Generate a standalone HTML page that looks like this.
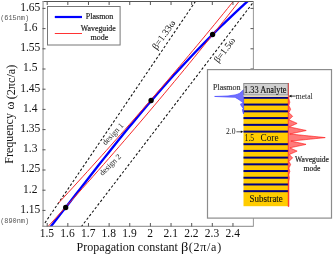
<!DOCTYPE html>
<html><head><meta charset="utf-8"><style>
html,body{margin:0;padding:0;background:#fff;}
svg{display:block;}
text{font-family:"Liberation Serif","Times New Roman",serif;}
</style></head><body>
<svg width="333" height="254" viewBox="0 0 333 254">
<rect width="333" height="254" fill="#fff"/>
<defs><clipPath id="ax"><rect x="42.5" y="1.5" width="211.0" height="225.0"/></clipPath></defs>
<g clip-path="url(#ax)">
<path d="M39.86,230.40 L199.08,-3.92" stroke="#111" stroke-width="1.05" stroke-dasharray="2.5,2" fill="none"/>
<path d="M78.46,230.40 L258.03,-3.92" stroke="#111" stroke-width="1.05" stroke-dasharray="2.5,2" fill="none"/>
<path d="M251.29,-2.00 L244.71,3.95 L238.24,9.90 L231.88,15.85 L225.63,21.79 L219.49,27.74 L213.45,33.69 L207.50,39.64 L201.65,45.59 L195.89,51.54 L190.22,57.49 L184.63,63.44 L179.13,69.38 L173.69,75.33 L168.34,81.28 L163.05,87.23 L157.83,93.18 L152.67,99.13 L147.57,105.08 L142.53,111.03 L137.54,116.97 L132.60,122.92 L127.71,128.87 L122.86,134.82 L118.04,140.77 L113.27,146.72 L108.52,152.67 L103.80,158.62 L99.11,164.56 L94.44,170.51 L89.79,176.46 L85.15,182.41 L80.52,188.36 L75.90,194.31 L71.28,200.26 L66.67,206.21 L62.05,212.15 L57.43,218.10 L52.79,224.05 L48.14,230.00" stroke="#0000ff" stroke-width="2.35" fill="none"/>
<path d="M236.02,-2.00 L231.77,3.26 L227.51,8.51 L223.23,13.77 L218.94,19.03 L214.63,24.28 L210.30,29.54 L205.96,34.79 L201.60,40.05 L197.23,45.31 L192.84,50.56 L188.43,55.82 L184.01,61.08 L179.57,66.33 L175.12,71.59 L170.65,76.85 L166.16,82.10 L161.66,87.36 L157.14,92.62 L152.61,97.87 L148.06,103.13 L143.49,108.38 L138.91,113.64 L134.31,118.90 L129.70,124.15 L125.07,129.41 L120.42,134.67 L115.76,139.92 L111.08,145.18 L106.39,150.44 L101.68,155.69 L96.95,160.95 L92.21,166.21 L87.45,171.46 L82.68,176.72 L77.89,181.97 L73.08,187.23 L68.26,192.49 L63.42,197.74 L58.57,203.00" stroke="#f52a2a" stroke-width="1" fill="none"/>
<path d="M241.75,-2.00 L237.09,3.95 L232.40,9.90 L227.69,15.85 L222.96,21.79 L218.22,27.74 L213.45,33.69 L208.66,39.64 L203.85,45.59 L199.02,51.54 L194.18,57.49 L189.31,63.44 L184.42,69.38 L179.51,75.33 L174.58,81.28 L169.63,87.23 L164.66,93.18 L159.67,99.13 L154.66,105.08 L149.64,111.03 L144.59,116.97 L139.52,122.92 L134.43,128.87 L129.32,134.82 L124.19,140.77 L119.04,146.72 L113.87,152.67 L108.68,158.62 L103.47,164.56 L98.24,170.51 L92.98,176.46 L87.71,182.41 L82.42,188.36 L77.11,194.31 L71.78,200.26 L66.43,206.21 L61.06,212.15 L55.67,218.10 L50.26,224.05 L44.82,230.00" stroke="#f52a2a" stroke-width="1" fill="none"/>
<circle cx="65.7" cy="207.5" r="2.65"/><circle cx="151.1" cy="100.5" r="2.65"/><circle cx="212.6" cy="34.5" r="2.65"/>
</g>
<path d="M42.5,1.5H253.5" stroke="#555" stroke-width="1"/>
<path d="M43.1,1.5V226.5" stroke="#bbb" stroke-width="1.8"/>
<path d="M42.5,226.3H253.5" stroke="#888" stroke-width="1"/>
<path d="M253.4,1.5V226.5" stroke="#999" stroke-width="1"/>
<path d="M47.20,226.5v-3.5M47.20,1.5v3.5M67.84,226.5v-3.5M67.84,1.5v3.5M88.48,226.5v-3.5M88.48,1.5v3.5M109.12,226.5v-3.5M109.12,1.5v3.5M129.76,226.5v-3.5M129.76,1.5v3.5M150.40,226.5v-3.5M150.40,1.5v3.5M171.04,226.5v-3.5M171.04,1.5v3.5M191.68,226.5v-3.5M191.68,1.5v3.5M212.32,226.5v-3.5M212.32,1.5v3.5M232.96,226.5v-3.5M232.96,1.5v3.5M42.5,210.40h3M253.5,210.40h-3M42.5,190.20h3M253.5,190.20h-3M42.5,170.00h3M253.5,170.00h-3M42.5,149.80h3M253.5,149.80h-3M42.5,129.60h3M253.5,129.60h-3M42.5,109.40h3M253.5,109.40h-3M42.5,89.20h3M253.5,89.20h-3M42.5,69.00h3M253.5,69.00h-3M42.5,48.80h3M253.5,48.80h-3M42.5,28.60h3M253.5,28.60h-3M42.5,8.40h3M253.5,8.40h-3" stroke="#555" stroke-width="1" fill="none"/>
<g font-size="11.5" text-anchor="middle" fill="#111"><text x="46.9" y="237">1.5</text><text x="67.5" y="237">1.6</text><text x="88.2" y="237">1.7</text><text x="108.8" y="237">1.8</text><text x="129.5" y="237">1.9</text><text x="150.1" y="237">2</text><text x="170.7" y="237">2.1</text><text x="191.4" y="237">2.2</text><text x="212.0" y="237">2.3</text><text x="232.7" y="237">2.4</text><text x="30.2" y="212.8">1.15</text><text x="30.2" y="192.6">1.2</text><text x="30.2" y="172.4">1.25</text><text x="30.2" y="152.2">1.3</text><text x="30.2" y="132.0">1.35</text><text x="30.2" y="111.8">1.4</text><text x="30.2" y="91.6">1.45</text><text x="30.2" y="71.4">1.5</text><text x="30.2" y="51.2">1.55</text><text x="30.2" y="31.0">1.6</text><text x="30.2" y="10.8">1.65</text></g>
<text x="76.6" y="250.8" font-size="12.05" fill="#111">Propagation constant</text>
<text transform="translate(181,250.8) scale(1.2,1)" font-size="12" fill="#111">β</text>
<text x="188.7" y="250.8" font-size="12" letter-spacing="0.75" fill="#111">(2π/a)</text>
<text transform="translate(13.4,163.7) rotate(-90)" font-size="12" fill="#111">Frequency</text>
<text transform="translate(13.6,109.6) rotate(-90)" font-size="12" fill="#111">ω</text>
<text transform="translate(15.0,99.3) rotate(-90)" font-size="12.2" fill="#111">(2πc/a)</text>
<text x="0.2" y="19.8" font-size="6.9" fill="#555" style="font-family:'Liberation Mono',monospace">(615nm)</text>
<text x="0.2" y="223.4" font-size="6.9" fill="#555" style="font-family:'Liberation Mono',monospace">(890nm)</text>
<!-- legend -->
<rect x="47.5" y="6.5" width="72.6" height="38.5" fill="#fff" stroke="#777" stroke-width="1"/>
<path d="M54.8,17 H82" stroke="#0000ff" stroke-width="2.2"/>
<path d="M54.8,33.5 H82" stroke="#ff3333" stroke-width="1"/>
<g font-size="8" fill="#222" stroke="#222" stroke-width="0.2">
<text x="85.8" y="19.3">Plasmon</text>
<text x="98.3" y="31" text-anchor="middle" font-size="7.8">Waveguide</text>
<text x="99.3" y="40.3" text-anchor="middle">mode</text>
</g>
<!-- line labels -->
<g font-size="9.6" fill="#111">
<text transform="translate(156.7,50.2) rotate(-55)">β=1.33ω</text>
<text transform="translate(218.3,63.3) rotate(-52.5)">β=1.5ω</text>
</g>
<g font-size="8" fill="#222">
<text transform="translate(105.6,145.6) rotate(-47)">design 1</text>
<text transform="translate(102.4,176) rotate(-44.5)">design 2</text>
</g>
<!-- inset -->
<rect x="207.5" y="69.6" width="124" height="148.5" fill="#fff" stroke="#8c8c8c" stroke-width="1.2"/>
<rect x="243.5" y="96" width="44.80" height="110.2" fill="#ffcc00"/>
<rect x="243.5" y="96.80" width="44.80" height="2" fill="#000080"/><rect x="243.5" y="103.56" width="44.80" height="2" fill="#000080"/><rect x="243.5" y="110.32" width="44.80" height="2" fill="#000080"/><rect x="243.5" y="117.08" width="44.80" height="2" fill="#000080"/><rect x="243.5" y="123.84" width="44.80" height="2" fill="#000080"/><rect x="243.5" y="130.60" width="44.80" height="2" fill="#000080"/><rect x="243.5" y="143.20" width="44.80" height="2" fill="#000080"/><rect x="243.5" y="149.91" width="44.80" height="2" fill="#000080"/><rect x="243.5" y="156.62" width="44.80" height="2" fill="#000080"/><rect x="243.5" y="163.33" width="44.80" height="2" fill="#000080"/><rect x="243.5" y="170.04" width="44.80" height="2" fill="#000080"/><rect x="243.5" y="176.75" width="44.80" height="2" fill="#000080"/><rect x="243.5" y="183.46" width="44.80" height="2" fill="#000080"/><rect x="243.5" y="190.17" width="44.80" height="2" fill="#000080"/>
<path d="M288.3,96 L289.24,96.00 L289.22,96.10 L289.21,96.20 L289.19,96.30 L289.17,96.40 L289.16,96.50 L289.14,96.60 L289.12,96.70 L289.11,96.80 L289.09,96.90 L289.08,97.00 L289.06,97.10 L289.04,97.20 L289.03,97.30 L289.01,97.40 L288.99,97.50 L288.98,97.60 L288.96,97.70 L288.95,97.80 L288.93,97.90 L288.91,98.00 L288.90,98.10 L288.88,98.20 L288.86,98.30 L288.85,98.40 L288.83,98.50 L288.85,98.60 L288.88,98.70 L288.91,98.80 L288.94,98.90 L288.96,99.00 L288.99,99.10 L289.02,99.20 L289.04,99.30 L289.07,99.40 L289.10,99.50 L289.12,99.60 L289.15,99.70 L289.18,99.80 L289.21,99.90 L289.23,100.00 L289.26,100.10 L289.29,100.20 L289.31,100.30 L289.34,100.40 L289.37,100.50 L289.39,100.60 L289.42,100.70 L289.45,100.80 L289.48,100.90 L289.50,101.00 L289.53,101.10 L289.56,101.20 L289.58,101.30 L289.61,101.40 L289.64,101.50 L289.66,101.60 L289.69,101.70 L289.72,101.80 L289.75,101.90 L289.77,102.00 L289.80,102.10 L289.77,102.20 L289.75,102.30 L289.72,102.40 L289.69,102.50 L289.66,102.60 L289.64,102.70 L289.61,102.80 L289.58,102.90 L289.56,103.00 L289.53,103.10 L289.50,103.20 L289.48,103.30 L289.45,103.40 L289.42,103.50 L289.39,103.60 L289.37,103.70 L289.34,103.80 L289.31,103.90 L289.29,104.00 L289.26,104.10 L289.23,104.20 L289.21,104.30 L289.18,104.40 L289.15,104.50 L289.12,104.60 L289.10,104.70 L289.07,104.80 L289.04,104.90 L289.02,105.00 L288.99,105.10 L288.96,105.20 L288.94,105.30 L288.91,105.40 L288.88,105.50 L288.85,105.60 L288.90,105.70 L288.95,105.80 L288.99,105.90 L289.04,106.00 L289.09,106.10 L289.14,106.20 L289.19,106.30 L289.24,106.40 L289.29,106.50 L289.34,106.60 L289.38,106.70 L289.43,106.80 L289.48,106.90 L289.53,107.00 L289.58,107.10 L289.63,107.20 L289.68,107.30 L289.72,107.40 L289.77,107.50 L289.82,107.60 L289.87,107.70 L289.92,107.80 L289.97,107.90 L290.02,108.00 L290.06,108.10 L290.11,108.20 L290.16,108.30 L290.21,108.40 L290.26,108.50 L290.31,108.60 L290.36,108.70 L290.41,108.80 L290.45,108.90 L290.50,109.00 L290.55,109.10 L290.60,109.20 L290.55,109.30 L290.50,109.40 L290.45,109.50 L290.41,109.60 L290.36,109.70 L290.31,109.80 L290.26,109.90 L290.21,110.00 L290.16,110.10 L290.11,110.20 L290.06,110.30 L290.02,110.40 L289.97,110.50 L289.92,110.60 L289.87,110.70 L289.82,110.80 L289.77,110.90 L289.72,111.00 L289.68,111.10 L289.63,111.20 L289.58,111.30 L289.53,111.40 L289.48,111.50 L289.43,111.60 L289.38,111.70 L289.34,111.80 L289.29,111.90 L289.24,112.00 L289.19,112.10 L289.14,112.20 L289.09,112.30 L289.04,112.40 L288.99,112.50 L288.95,112.60 L288.90,112.70 L289.01,112.80 L289.11,112.90 L289.21,113.00 L289.31,113.10 L289.42,113.20 L289.52,113.30 L289.62,113.40 L289.72,113.50 L289.83,113.60 L289.93,113.70 L290.03,113.80 L290.14,113.90 L290.24,114.00 L290.34,114.10 L290.44,114.20 L290.55,114.30 L290.65,114.40 L290.75,114.50 L290.85,114.60 L290.96,114.70 L291.06,114.80 L291.16,114.90 L291.26,115.00 L291.37,115.10 L291.47,115.20 L291.57,115.30 L291.68,115.40 L291.78,115.50 L291.88,115.60 L291.98,115.70 L292.09,115.80 L292.19,115.90 L292.29,116.00 L292.39,116.10 L292.50,116.20 L292.60,116.30 L292.50,116.40 L292.39,116.50 L292.29,116.60 L292.19,116.70 L292.09,116.80 L291.98,116.90 L291.88,117.00 L291.78,117.10 L291.68,117.20 L291.57,117.30 L291.47,117.40 L291.37,117.50 L291.26,117.60 L291.16,117.70 L291.06,117.80 L290.96,117.90 L290.85,118.00 L290.75,118.10 L290.65,118.20 L290.55,118.30 L290.44,118.40 L290.34,118.50 L290.24,118.60 L290.14,118.70 L290.03,118.80 L289.93,118.90 L289.83,119.00 L289.72,119.10 L289.62,119.20 L289.52,119.30 L289.42,119.40 L289.31,119.50 L289.21,119.60 L289.11,119.70 L289.02,119.80 L289.25,119.90 L289.47,120.00 L289.70,120.10 L289.92,120.20 L290.15,120.30 L290.37,120.40 L290.59,120.50 L290.82,120.60 L291.04,120.70 L291.27,120.80 L291.49,120.90 L291.72,121.00 L291.94,121.10 L292.16,121.20 L292.39,121.30 L292.61,121.40 L292.84,121.50 L293.06,121.60 L293.29,121.70 L293.51,121.80 L293.74,121.90 L293.96,122.00 L294.18,122.10 L294.41,122.20 L294.63,122.30 L294.86,122.40 L295.08,122.50 L295.31,122.60 L295.53,122.70 L295.75,122.80 L295.98,122.90 L296.20,123.00 L296.43,123.10 L296.65,123.20 L296.88,123.30 L297.10,123.40 L296.88,123.50 L296.65,123.60 L296.43,123.70 L296.20,123.80 L295.98,123.90 L295.75,124.00 L295.53,124.10 L295.31,124.20 L295.08,124.30 L294.86,124.40 L294.63,124.50 L294.41,124.60 L294.18,124.70 L293.96,124.80 L293.74,124.90 L293.51,125.00 L293.29,125.10 L293.06,125.20 L292.84,125.30 L292.61,125.40 L292.39,125.50 L292.16,125.60 L291.94,125.70 L291.72,125.80 L291.49,125.90 L291.27,126.00 L291.04,126.10 L290.82,126.20 L290.59,126.30 L290.37,126.40 L290.15,126.50 L289.92,126.60 L289.70,126.70 L289.47,126.80 L289.27,126.90 L289.74,127.00 L290.21,127.10 L290.68,127.20 L291.15,127.30 L291.62,127.40 L292.09,127.50 L292.56,127.60 L293.03,127.70 L293.50,127.80 L293.97,127.90 L294.44,128.00 L294.91,128.10 L295.38,128.20 L295.85,128.30 L296.32,128.40 L296.79,128.50 L297.26,128.60 L297.74,128.70 L298.21,128.80 L298.68,128.90 L299.15,129.00 L299.62,129.10 L300.09,129.20 L300.56,129.30 L301.03,129.40 L301.50,129.50 L301.97,129.60 L302.44,129.70 L302.91,129.80 L303.38,129.90 L303.85,130.00 L304.32,130.10 L304.79,130.20 L305.26,130.30 L305.73,130.40 L306.20,130.50 L305.73,130.60 L305.26,130.70 L304.79,130.80 L304.32,130.90 L303.85,131.00 L303.38,131.10 L302.91,131.20 L302.44,131.30 L301.97,131.40 L301.50,131.50 L301.03,131.60 L300.56,131.70 L300.09,131.80 L299.62,131.90 L299.15,132.00 L298.68,132.10 L298.21,132.20 L297.74,132.30 L297.26,132.40 L296.79,132.50 L296.32,132.60 L295.85,132.70 L295.38,132.80 L294.91,132.90 L294.44,133.00 L293.97,133.10 L293.50,133.20 L293.03,133.30 L292.56,133.40 L292.09,133.50 L291.62,133.60 L291.15,133.70 L290.68,133.80 L290.21,133.90 L289.78,134.00 L290.77,134.10 L291.75,134.20 L292.74,134.30 L293.72,134.40 L294.70,134.50 L295.69,134.60 L296.67,134.70 L297.65,134.80 L298.64,134.90 L299.62,135.00 L300.61,135.10 L301.59,135.20 L302.57,135.30 L303.56,135.40 L304.54,135.50 L305.52,135.60 L306.51,135.70 L307.49,135.80 L308.48,135.90 L309.46,136.00 L310.44,136.10 L311.43,136.20 L312.41,136.30 L313.39,136.40 L314.38,136.50 L315.36,136.60 L316.35,136.70 L317.33,136.80 L318.31,136.90 L319.30,137.00 L320.28,137.10 L321.26,137.20 L322.25,137.30 L323.23,137.40 L324.22,137.50 L325.20,137.60 L324.22,137.70 L323.23,137.80 L322.25,137.90 L321.26,138.00 L320.28,138.10 L319.30,138.20 L318.31,138.30 L317.33,138.40 L316.35,138.50 L315.36,138.60 L314.38,138.70 L313.39,138.80 L312.41,138.90 L311.43,139.00 L310.44,139.10 L309.46,139.20 L308.48,139.30 L307.49,139.40 L306.51,139.50 L305.52,139.60 L304.54,139.70 L303.56,139.80 L302.57,139.90 L301.59,140.00 L300.61,140.10 L299.62,140.20 L298.64,140.30 L297.65,140.40 L296.67,140.50 L295.69,140.60 L294.70,140.70 L293.72,140.80 L292.74,140.90 L291.75,141.00 L290.92,141.10 L291.39,141.20 L291.86,141.30 L292.33,141.40 L292.80,141.50 L293.27,141.60 L293.74,141.70 L294.21,141.80 L294.68,141.90 L295.15,142.00 L295.62,142.10 L296.09,142.20 L296.56,142.30 L297.03,142.40 L297.50,142.50 L297.97,142.60 L298.44,142.70 L298.91,142.80 L299.38,142.90 L299.85,143.00 L300.32,143.10 L300.79,143.20 L301.26,143.30 L301.73,143.40 L302.20,143.50 L302.67,143.60 L303.14,143.70 L303.61,143.80 L304.08,143.90 L304.55,144.00 L305.02,144.10 L305.49,144.20 L305.96,144.30 L305.96,144.40 L305.49,144.50 L305.02,144.60 L304.55,144.70 L304.08,144.80 L303.61,144.90 L303.14,145.00 L302.67,145.10 L302.20,145.20 L301.73,145.30 L301.26,145.40 L300.79,145.50 L300.32,145.60 L299.85,145.70 L299.38,145.80 L298.91,145.90 L298.44,146.00 L297.97,146.10 L297.50,146.20 L297.03,146.30 L296.56,146.40 L296.09,146.50 L295.62,146.60 L295.15,146.70 L294.68,146.80 L294.21,146.90 L293.74,147.00 L293.27,147.10 L292.80,147.20 L292.33,147.30 L291.86,147.40 L291.39,147.50 L290.92,147.60 L290.45,147.70 L289.98,147.80 L289.92,147.90 L290.15,148.00 L290.37,148.10 L290.59,148.20 L290.82,148.30 L291.04,148.40 L291.27,148.50 L291.49,148.60 L291.72,148.70 L291.94,148.80 L292.16,148.90 L292.39,149.00 L292.61,149.10 L292.84,149.20 L293.06,149.30 L293.29,149.40 L293.51,149.50 L293.74,149.60 L293.96,149.70 L294.18,149.80 L294.41,149.90 L294.63,150.00 L294.86,150.10 L295.08,150.20 L295.31,150.30 L295.53,150.40 L295.75,150.50 L295.98,150.60 L296.20,150.70 L296.43,150.80 L296.65,150.90 L296.88,151.00 L297.10,151.10 L296.88,151.20 L296.65,151.30 L296.43,151.40 L296.20,151.50 L295.98,151.60 L295.75,151.70 L295.53,151.80 L295.31,151.90 L295.08,152.00 L294.86,152.10 L294.63,152.20 L294.41,152.30 L294.18,152.40 L293.96,152.50 L293.74,152.60 L293.51,152.70 L293.29,152.80 L293.06,152.90 L292.84,153.00 L292.61,153.10 L292.39,153.20 L292.16,153.30 L291.94,153.40 L291.72,153.50 L291.49,153.60 L291.27,153.70 L291.04,153.80 L290.82,153.90 L290.59,154.00 L290.37,154.10 L290.15,154.20 L289.92,154.30 L289.70,154.40 L289.47,154.50 L289.26,154.60 L289.36,154.70 L289.47,154.80 L289.57,154.90 L289.67,155.00 L289.78,155.10 L289.88,155.20 L289.98,155.30 L290.08,155.40 L290.19,155.50 L290.29,155.60 L290.39,155.70 L290.49,155.80 L290.60,155.90 L290.70,156.00 L290.80,156.10 L290.91,156.20 L291.01,156.30 L291.11,156.40 L291.21,156.50 L291.32,156.60 L291.42,156.70 L291.52,156.80 L291.62,156.90 L291.73,157.00 L291.83,157.10 L291.93,157.20 L292.04,157.30 L292.14,157.40 L292.24,157.50 L292.34,157.60 L292.45,157.70 L292.55,157.80 L292.55,157.90 L292.45,158.00 L292.34,158.10 L292.24,158.20 L292.14,158.30 L292.04,158.40 L291.93,158.50 L291.83,158.60 L291.73,158.70 L291.62,158.80 L291.52,158.90 L291.42,159.00 L291.32,159.10 L291.21,159.20 L291.11,159.30 L291.01,159.40 L290.91,159.50 L290.80,159.60 L290.70,159.70 L290.60,159.80 L290.49,159.90 L290.39,160.00 L290.29,160.10 L290.19,160.20 L290.08,160.30 L289.98,160.40 L289.88,160.50 L289.78,160.60 L289.67,160.70 L289.57,160.80 L289.47,160.90 L289.36,161.00 L289.26,161.10 L289.16,161.20 L289.06,161.30 L289.04,161.40 L289.09,161.50 L289.14,161.60 L289.19,161.70 L289.24,161.80 L289.29,161.90 L289.34,162.00 L289.38,162.10 L289.43,162.20 L289.48,162.30 L289.53,162.40 L289.58,162.50 L289.63,162.60 L289.68,162.70 L289.72,162.80 L289.77,162.90 L289.82,163.00 L289.87,163.10 L289.92,163.20 L289.97,163.30 L290.02,163.40 L290.06,163.50 L290.11,163.60 L290.16,163.70 L290.21,163.80 L290.26,163.90 L290.31,164.00 L290.36,164.10 L290.41,164.20 L290.45,164.30 L290.50,164.40 L290.55,164.50 L290.60,164.60 L290.55,164.70 L290.50,164.80 L290.45,164.90 L290.41,165.00 L290.36,165.10 L290.31,165.20 L290.26,165.30 L290.21,165.40 L290.16,165.50 L290.11,165.60 L290.06,165.70 L290.02,165.80 L289.97,165.90 L289.92,166.00 L289.87,166.10 L289.82,166.20 L289.77,166.30 L289.72,166.40 L289.68,166.50 L289.63,166.60 L289.58,166.70 L289.53,166.80 L289.48,166.90 L289.43,167.00 L289.38,167.10 L289.34,167.20 L289.29,167.30 L289.24,167.40 L289.19,167.50 L289.14,167.60 L289.09,167.70 L289.04,167.80 L288.99,167.90 L288.95,168.00 L288.92,168.10 L288.95,168.20 L288.98,168.30 L289.00,168.40 L289.03,168.50 L289.06,168.60 L289.08,168.70 L289.11,168.80 L289.14,168.90 L289.16,169.00 L289.19,169.10 L289.22,169.20 L289.25,169.30 L289.27,169.40 L289.30,169.50 L289.33,169.60 L289.35,169.70 L289.38,169.80 L289.41,169.90 L289.44,170.00 L289.46,170.10 L289.49,170.20 L289.52,170.30 L289.54,170.40 L289.57,170.50 L289.60,170.60 L289.62,170.70 L289.65,170.80 L289.68,170.90 L289.71,171.00 L289.73,171.10 L289.76,171.20 L289.79,171.30 L289.79,171.40 L289.76,171.50 L289.73,171.60 L289.71,171.70 L289.68,171.80 L289.65,171.90 L289.62,172.00 L289.60,172.10 L289.57,172.20 L289.54,172.30 L289.52,172.40 L289.49,172.50 L289.46,172.60 L289.44,172.70 L289.41,172.80 L289.38,172.90 L289.35,173.00 L289.33,173.10 L289.30,173.20 L289.27,173.30 L289.25,173.40 L289.22,173.50 L289.19,173.60 L289.16,173.70 L289.14,173.80 L289.11,173.90 L289.08,174.00 L289.06,174.10 L289.03,174.20 L289.00,174.30 L288.98,174.40 L288.95,174.50 L288.92,174.60 L288.89,174.70 L288.87,174.80 L288.88,174.90 L288.90,175.00 L288.91,175.10 L288.93,175.20 L288.95,175.30 L288.96,175.40 L288.98,175.50 L288.99,175.60 L289.01,175.70 L289.03,175.80 L289.04,175.90 L289.06,176.00 L289.08,176.10 L289.09,176.20 L289.11,176.30 L289.12,176.40 L289.14,176.50 L289.16,176.60 L289.17,176.70 L289.19,176.80 L289.21,176.90 L289.22,177.00 L289.24,177.10 L289.25,177.20 L289.27,177.30 L289.29,177.40 L289.30,177.50 L289.32,177.60 L289.34,177.70 L289.35,177.80 L289.37,177.90 L289.38,178.00 L289.40,178.10 L289.38,178.20 L289.37,178.30 L289.35,178.40 L289.34,178.50 L289.32,178.60 L289.30,178.70 L289.29,178.80 L289.27,178.90 L289.25,179.00 L289.24,179.10 L289.22,179.20 L289.21,179.30 L289.19,179.40 L289.17,179.50 L289.16,179.60 L289.14,179.70 L289.12,179.80 L289.11,179.90 L289.09,180.00 L289.08,180.10 L289.06,180.20 L289.04,180.30 L289.03,180.40 L289.01,180.50 L288.99,180.60 L288.98,180.70 L288.96,180.80 L288.95,180.90 L288.93,181.00 L288.91,181.10 L288.90,181.20 L288.88,181.30 L288.86,181.40 L288.85,181.50 L288.83,181.60 L288.82,181.70 L288.80,181.80 L288.80,181.90 L288.80,182.00 L288.80,182.10 L288.80,182.20 L288.80,182.30 L288.80,182.40 L288.80,182.50 L288.80,182.60 L288.80,182.70 L288.80,182.80 L288.80,182.90 L288.80,183.00 L288.80,183.10 L288.80,183.20 L288.80,183.30 L288.80,183.40 L288.80,183.50 L288.80,183.60 L288.80,183.70 L288.80,183.80 L288.80,183.90 L288.80,184.00 L288.80,184.10 L288.80,184.20 L288.80,184.30 L288.80,184.40 L288.80,184.50 L288.80,184.60 L288.80,184.70 L288.80,184.80 L288.80,184.90 L288.80,185.00 L288.80,185.10 L288.80,185.20 L288.80,185.30 L288.80,185.40 L288.80,185.50 L288.80,185.60 L288.80,185.70 L288.80,185.80 L288.80,185.90 L288.80,186.00 L288.80,186.10 L288.80,186.20 L288.80,186.30 L288.80,186.40 L288.80,186.50 L288.80,186.60 L288.80,186.70 L288.80,186.80 L288.80,186.90 L288.80,187.00 L288.80,187.10 L288.80,187.20 L288.80,187.30 L288.80,187.40 L288.80,187.50 L288.80,187.60 L288.80,187.70 L288.80,187.80 L288.80,187.90 L288.80,188.00 L288.80,188.10 L288.80,188.20 L288.80,188.30 L288.80,188.40 L288.80,188.50 L288.80,188.60 L288.80,188.70 L288.80,188.80 L288.80,188.90 L288.80,189.00 L288.80,189.10 L288.80,189.20 L288.80,189.30 L288.80,189.40 L288.80,189.50 L288.80,189.60 L288.80,189.70 L288.80,189.80 L288.80,189.90 L288.80,190.00 L288.80,190.10 L288.80,190.20 L288.80,190.30 L288.80,190.40 L288.80,190.50 L288.80,190.60 L288.80,190.70 L288.80,190.80 L288.80,190.90 L288.80,191.00 L288.80,191.10 L288.80,191.20 L288.80,191.30 L288.80,191.40 L288.80,191.50 L288.80,191.60 L288.80,191.70 L288.80,191.80 L288.80,191.90 L288.80,192.00 L288.80,192.10 L288.80,192.20 L288.80,192.30 L288.80,192.40 L288.80,192.50 L288.80,192.60 L288.80,192.70 L288.80,192.80 L288.80,192.90 L288.80,193.00 L288.80,193.10 L288.80,193.20 L288.80,193.30 L288.80,193.40 L288.80,193.50 L288.80,193.60 L288.80,193.70 L288.80,193.80 L288.80,193.90 L288.80,194.00 L288.80,194.10 L288.80,194.20 L288.80,194.30 L288.80,194.40 L288.80,194.50 L288.80,194.60 L288.80,194.70 L288.80,194.80 L288.80,194.90 L288.80,195.00 L288.80,195.10 L288.80,195.20 L288.80,195.30 L288.80,195.40 L288.80,195.50 L288.80,195.60 L288.80,195.70 L288.80,195.80 L288.80,195.90 L288.80,196.00 L288.80,196.10 L288.80,196.20 L288.80,196.30 L288.80,196.40 L288.80,196.50 L288.80,196.60 L288.80,196.70 L288.80,196.80 L288.80,196.90 L288.80,197.00 L288.80,197.10 L288.80,197.20 L288.80,197.30 L288.80,197.40 L288.80,197.50 L288.80,197.60 L288.80,197.70 L288.80,197.80 L288.80,197.90 L288.80,198.00 L288.80,198.10 L288.80,198.20 L288.80,198.30 L288.80,198.40 L288.80,198.50 L288.80,198.60 L288.80,198.70 L288.80,198.80 L288.80,198.90 L288.80,199.00 L288.80,199.10 L288.80,199.20 L288.80,199.30 L288.80,199.40 L288.80,199.50 L288.80,199.60 L288.80,199.70 L288.80,199.80 L288.80,199.90 L288.80,200.00 L288.80,200.10 L288.80,200.20 L288.80,200.30 L288.80,200.40 L288.80,200.50 L288.80,200.60 L288.80,200.70 L288.80,200.80 L288.80,200.90 L288.80,201.00 L288.80,201.10 L288.80,201.20 L288.80,201.30 L288.80,201.40 L288.80,201.50 L288.80,201.60 L288.80,201.70 L288.80,201.80 L288.80,201.90 L288.80,202.00 L288.80,202.10 L288.80,202.20 L288.80,202.30 L288.80,202.40 L288.80,202.50 L288.80,202.60 L288.80,202.70 L288.80,202.80 L288.80,202.90 L288.80,203.00 L288.80,203.10 L288.80,203.20 L288.80,203.30 L288.80,203.40 L288.80,203.50 L288.80,203.60 L288.80,203.70 L288.80,203.80 L288.80,203.90 L288.80,204.00 L288.80,204.10 L288.80,204.20 L288.80,204.30 L288.80,204.40 L288.80,204.50 L288.80,204.60 L288.80,204.70 L288.80,204.80 L288.80,204.90 L288.80,205.00 L288.80,205.10 L288.80,205.20 L288.80,205.30 L288.80,205.40 L288.80,205.50 L288.80,205.60 L288.80,205.70 L288.80,205.80 L288.80,205.90 L288.80,206.00 L288.80,206.10 L288.80,206.20 L288.80,206.30 L288.80,206.40 L288.80,206.50 L288.3,206.6 Z" fill="#ff7a7a" stroke="#ff1a1a" stroke-width="0.75"/>
<path d="M243.6,89.5 L243,90.2 L241.5,91.6 L239.8,93.2 L237.5,94.2 L235.1,94.9 L231,95.5 L228,95.9 L222,96.2 L214.6,96.45 L222,96.8 L228,97.1 L235.1,97.3 L235.7,97.7 L237.8,98.9 L239.8,100.3 L241.5,101.6 L242.8,102.6 L243.3,103.3 L240.6,103.9 L240.6,104.6 L241.2,105.7 L242,106.8 L242.8,107.9 L243.3,108.6 L242.4,109.4 L242.6,111 L243.2,113 L243.6,114 Z" fill="#7070ff" stroke="#3b3bff" stroke-width="0.6"/>
<rect x="243.5" y="95" width="44.8" height="1.6" fill="#fff"/>
<rect x="243.8" y="83.4" width="44.3" height="11.6" fill="#d0d0d0" stroke="#777" stroke-width="0.8"/>
<path d="M288.4,83 V96" stroke="#e03030" stroke-width="0.8"/>
<text transform="translate(244,92.8) scale(0.8,1)" font-size="10.4" fill="#111" stroke="#111" stroke-width="0.15">1.33 Analyte</text>
<text transform="translate(244.6,141.1) scale(0.82,1)" font-size="9.4" fill="#111">1.5</text>
<text x="260.5" y="141.1" font-size="9.3" fill="#111">Core</text>
<text transform="translate(249.6,202.2) scale(0.93,1)" font-size="9.6" fill="#111" stroke="#111" stroke-width="0.12">Substrate</text>
<text x="226" y="133.8" font-size="7.6" fill="#111">2.0</text>
<path d="M236.4,131.8 H242" stroke="#111" stroke-width="0.7"/><path d="M243.3,131.8 l-2.5,-1.2 v2.4z" fill="#111"/>
<text x="295.8" y="98.6" font-size="7.6" fill="#222">metal</text>
<path d="M290.5,96.1 H295.6" stroke="#222" stroke-width="0.9"/><path d="M288.7,96.1 l2.8,-1.4 v2.8z" fill="#111"/>
<text x="213" y="89.8" font-size="8" fill="#3a3a3a" stroke="#3a3a3a" stroke-width="0.2">Plasmon</text>
<text x="312" y="161.6" font-size="7.6" fill="#222" stroke="#222" stroke-width="0.18" text-anchor="middle">Waveguide</text>
<text x="312" y="170.6" font-size="7.6" fill="#222" stroke="#222" stroke-width="0.18" text-anchor="middle">mode</text>
</svg>
</body></html>
